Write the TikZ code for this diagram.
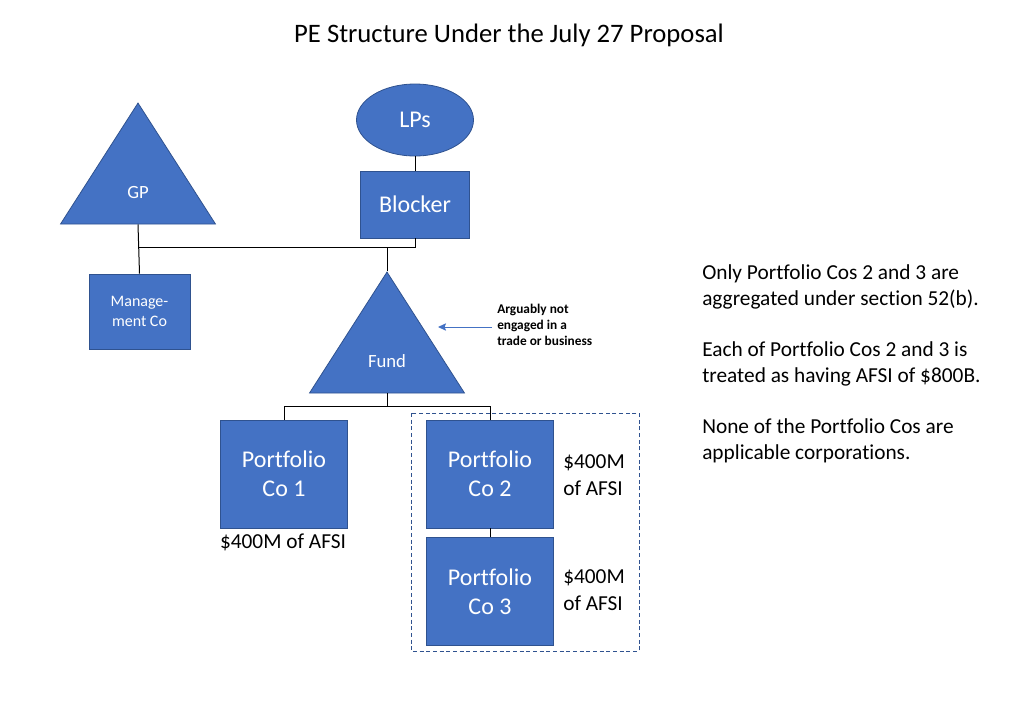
\documentclass[tikz,border=0pt]{standalone}
\usepackage{fontspec}
\setmainfont{Carlito}[Ligatures=NoCommon]
\usetikzlibrary{shapes,shapes.geometric,calc,arrows.meta}
\definecolor{pe_blue}{HTML}{4472C4}
\definecolor{pe_edge}{HTML}{2F528F}
\tikzset{
  x=0.75pt, y=-0.75pt,
  shapenode/.style = {align=center, inner sep=0pt, text centered, white, draw=pe_edge, fill=pe_blue, line width=0.6pt},
  pf_box/.style = {shapenode, minimum width=95.25pt, minimum height=81pt, font=\fontsize{18}{21.5}\selectfont},
  tri_n/.style = {shapenode, isosceles triangle, isosceles triangle stretches, shape border rotate=90, anchor=apex, minimum width=116.25pt, minimum height=90.75pt},
  tri_lbl/.style = {white, inner sep=0pt, font=\fontsize{14}{17}\selectfont},
  link/.style = {draw=black, line width=0.75pt},
  afsi_txt/.style = {align=left, inner sep=0pt, anchor=base west, font=\fontsize{16}{20}\selectfont},
  side_txt/.style = {align=left, inner sep=0pt, anchor=base west, font=\fontsize{16}{19.5}\selectfont}
}
\begin{document}
\begin{tikzpicture}
\useasboundingbox (0,0) rectangle (1035,719);
\node [inner sep=0pt, anchor=base, font=\fontsize{20}{24}\selectfont] (title) at (509,42) {PE Structure Under the July 27 Proposal};

% top level
\node [tri_n] (gp) at (138,102) {};
\node [tri_lbl] (gp_lbl) at (138,192) {GP};
\node [shapenode, ellipse, minimum width=87.75pt, minimum height=54pt, font=\fontsize{18}{22}\selectfont] (lps) at (415,120) {LPs};
\node [shapenode, minimum width=81.75pt, minimum height=50.25pt, font=\fontsize{18}{22}\selectfont] (blocker) at (415,204.5) {Blocker};
\node [shapenode, minimum width=75.75pt, minimum height=56.25pt, font=\fontsize{12}{14.5}\selectfont] (mgmt) at (139.5,311.5) {Manage-\\ment Co};

% fund
\node [tri_n] (fund) at (387,271) {};
\node [tri_lbl] (fund_lbl) at (387,361) {Fund};
\node [inner sep=0pt, align=left, anchor=base west, font=\fontsize{10}{12}\selectfont\bfseries] (fund_note) at (497,345) {Arguably not\\engaged in a\\trade or business};
\coordinate (arr_tail) at (492,327);
\coordinate (arr_tip) at (438,327);
\draw [pe_blue, line width=0.75pt, -{Stealth[length=6pt,width=5.5pt,inset=1pt]}] (arr_tail) -- (arr_tip);

% portfolio cos
\node [pf_box] (co1) at (284,474) {Portfolio\\Co 1};
\node [pf_box] (co2) at (490,474) {Portfolio\\Co 2};
\node [pf_box] (co3) at (490,591.5) {Portfolio\\Co 3};
\node [inner sep=0pt, anchor=base, font=\fontsize{16}{20}\selectfont] (afsi1) at (283,548) {\$400M of AFSI};
\node [afsi_txt] (afsi2) at (563,495) {\$400M\\of AFSI};
\node [afsi_txt] (afsi3) at (563,610) {\$400M\\of AFSI};
\draw [pe_edge, line width=0.75pt, dash pattern=on 3pt off 2pt] (411,413) rectangle (639,651);

% connectors
\coordinate (top_bus) at (138,247);
\coordinate (fund_bus) at (387,406);
\draw [link] (lps.south) -- (blocker.north);
\draw [link] (gp.lower side) -- (mgmt.north);
\draw [link] (blocker.south) |- (top_bus);
\draw [link] (fund.apex) -- (fund.apex |- top_bus);
\draw [link] (fund.lower side) -- (fund_bus);
\draw [link] (co1.north) |- (fund_bus) -| (co2.north);
\draw [link] (co2.south) -- (co3.north);

% side notes
\node [side_txt] (note1) at (702,305) {Only Portfolio Cos 2 and 3 are\\aggregated under section 52(b).};
\node [side_txt] (note2) at (702,382) {Each of Portfolio Cos 2 and 3 is\\treated as having AFSI of \$800B.};
\node [side_txt] (note3) at (702,459) {None of the Portfolio Cos are\\applicable corporations.};
\end{tikzpicture}
\end{document}
